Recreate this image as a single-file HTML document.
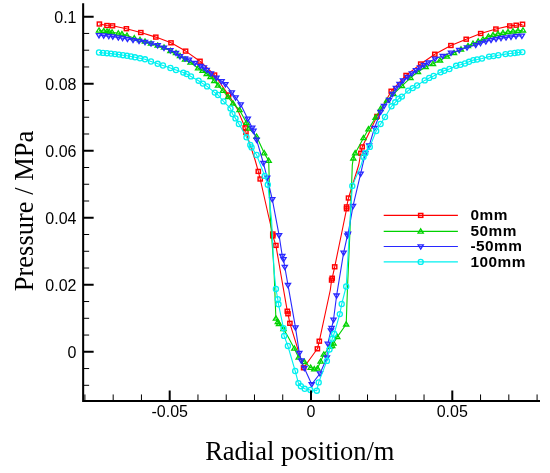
<!DOCTYPE html><html lang="en"><head><meta charset="utf-8"><title>Pressure vs radial position</title><style>html,body{margin:0;padding:0;background:#fff;}svg{display:block;}.t{font-family:"Liberation Sans",Arial,sans-serif;font-size:16px;fill:#000;}.ti{font-family:"Liberation Serif","Times New Roman",serif;font-size:26.5px;fill:#000;}.lg{font-family:"Liberation Sans",Arial,sans-serif;font-weight:bold;font-size:14px;fill:#000;}</style></head><body>
<svg width="550" height="473" viewBox="0 0 550 473">
<rect width="550" height="473" fill="#fff"/>
<polyline points="99.4,24.0 107.0,25.5 112.5,25.8 126.4,28.7 140.8,32.5 155.8,37.1 171.0,42.8 185.6,51.1 200.0,61.2 214.5,75.0 228.6,95.0 237.0,108.4 245.2,127.8 245.9,132.2 255.1,160.0 258.3,171.4 260.2,179.0 268.3,215.0 272.8,234.0 272.8,235.9 275.9,245.4 281.0,275.0 287.3,311.2 288.0,313.8 289.9,323.3 303.6,367.8 317.4,348.8 319.3,341.2 330.3,290.0 331.6,280.1 332.2,278.2 334.7,266.8 342.3,230.0 346.6,208.8 346.6,206.9 348.5,198.0 358.7,165.0 360.9,153.2 362.2,146.9 377.0,116.4 391.2,91.2 406.1,75.4 420.7,64.0 434.8,54.2 450.9,45.5 466.2,39.2 480.7,33.5 495.9,29.0 509.8,25.9 516.2,25.2 522.5,24.2" fill="none" stroke="#ff0000" stroke-width="1.1" stroke-linejoin="round"/>
<g><rect x="97.30" y="22.05" width="4.2" height="3.91" fill="none" stroke="#ff0000" stroke-width="1.45"/><rect x="104.90" y="23.55" width="4.2" height="3.91" fill="none" stroke="#ff0000" stroke-width="1.45"/><rect x="110.40" y="23.85" width="4.2" height="3.91" fill="none" stroke="#ff0000" stroke-width="1.45"/><rect x="124.30" y="26.75" width="4.2" height="3.91" fill="none" stroke="#ff0000" stroke-width="1.45"/><rect x="138.70" y="30.55" width="4.2" height="3.91" fill="none" stroke="#ff0000" stroke-width="1.45"/><rect x="153.70" y="35.15" width="4.2" height="3.91" fill="none" stroke="#ff0000" stroke-width="1.45"/><rect x="168.90" y="40.85" width="4.2" height="3.91" fill="none" stroke="#ff0000" stroke-width="1.45"/><rect x="183.50" y="49.15" width="4.2" height="3.91" fill="none" stroke="#ff0000" stroke-width="1.45"/><rect x="197.90" y="59.25" width="4.2" height="3.91" fill="none" stroke="#ff0000" stroke-width="1.45"/><rect x="212.40" y="73.05" width="4.2" height="3.91" fill="none" stroke="#ff0000" stroke-width="1.45"/><rect x="226.50" y="93.05" width="4.2" height="3.91" fill="none" stroke="#ff0000" stroke-width="1.45"/><rect x="243.10" y="125.85" width="4.2" height="3.91" fill="none" stroke="#ff0000" stroke-width="1.45"/><rect x="243.80" y="130.25" width="4.2" height="3.91" fill="none" stroke="#ff0000" stroke-width="1.45"/><rect x="256.20" y="169.45" width="4.2" height="3.91" fill="none" stroke="#ff0000" stroke-width="1.45"/><rect x="258.10" y="177.05" width="4.2" height="3.91" fill="none" stroke="#ff0000" stroke-width="1.45"/><rect x="270.70" y="232.05" width="4.2" height="3.91" fill="none" stroke="#ff0000" stroke-width="1.45"/><rect x="270.70" y="233.95" width="4.2" height="3.91" fill="none" stroke="#ff0000" stroke-width="1.45"/><rect x="273.80" y="243.45" width="4.2" height="3.91" fill="none" stroke="#ff0000" stroke-width="1.45"/><rect x="285.20" y="309.25" width="4.2" height="3.91" fill="none" stroke="#ff0000" stroke-width="1.45"/><rect x="285.90" y="311.85" width="4.2" height="3.91" fill="none" stroke="#ff0000" stroke-width="1.45"/><rect x="287.80" y="321.35" width="4.2" height="3.91" fill="none" stroke="#ff0000" stroke-width="1.45"/><rect x="301.50" y="365.85" width="4.2" height="3.91" fill="none" stroke="#ff0000" stroke-width="1.45"/><rect x="315.30" y="346.85" width="4.2" height="3.91" fill="none" stroke="#ff0000" stroke-width="1.45"/><rect x="317.20" y="339.25" width="4.2" height="3.91" fill="none" stroke="#ff0000" stroke-width="1.45"/><rect x="329.50" y="278.15" width="4.2" height="3.91" fill="none" stroke="#ff0000" stroke-width="1.45"/><rect x="330.10" y="276.25" width="4.2" height="3.91" fill="none" stroke="#ff0000" stroke-width="1.45"/><rect x="332.60" y="264.85" width="4.2" height="3.91" fill="none" stroke="#ff0000" stroke-width="1.45"/><rect x="344.50" y="206.85" width="4.2" height="3.91" fill="none" stroke="#ff0000" stroke-width="1.45"/><rect x="344.50" y="204.95" width="4.2" height="3.91" fill="none" stroke="#ff0000" stroke-width="1.45"/><rect x="346.40" y="196.05" width="4.2" height="3.91" fill="none" stroke="#ff0000" stroke-width="1.45"/><rect x="358.80" y="151.25" width="4.2" height="3.91" fill="none" stroke="#ff0000" stroke-width="1.45"/><rect x="360.10" y="144.95" width="4.2" height="3.91" fill="none" stroke="#ff0000" stroke-width="1.45"/><rect x="374.90" y="114.45" width="4.2" height="3.91" fill="none" stroke="#ff0000" stroke-width="1.45"/><rect x="389.10" y="89.25" width="4.2" height="3.91" fill="none" stroke="#ff0000" stroke-width="1.45"/><rect x="404.00" y="73.45" width="4.2" height="3.91" fill="none" stroke="#ff0000" stroke-width="1.45"/><rect x="418.60" y="62.05" width="4.2" height="3.91" fill="none" stroke="#ff0000" stroke-width="1.45"/><rect x="432.70" y="52.25" width="4.2" height="3.91" fill="none" stroke="#ff0000" stroke-width="1.45"/><rect x="448.80" y="43.55" width="4.2" height="3.91" fill="none" stroke="#ff0000" stroke-width="1.45"/><rect x="464.10" y="37.25" width="4.2" height="3.91" fill="none" stroke="#ff0000" stroke-width="1.45"/><rect x="478.60" y="31.55" width="4.2" height="3.91" fill="none" stroke="#ff0000" stroke-width="1.45"/><rect x="493.80" y="27.05" width="4.2" height="3.91" fill="none" stroke="#ff0000" stroke-width="1.45"/><rect x="507.70" y="23.95" width="4.2" height="3.91" fill="none" stroke="#ff0000" stroke-width="1.45"/><rect x="514.10" y="23.25" width="4.2" height="3.91" fill="none" stroke="#ff0000" stroke-width="1.45"/><rect x="520.40" y="22.25" width="4.2" height="3.91" fill="none" stroke="#ff0000" stroke-width="1.45"/></g>
<polyline points="99.0,30.5 103.7,31.0 107.0,31.5 109.2,31.8 112.1,32.3 118.3,33.3 121.9,34.0 127.0,35.6 134.3,38.2 140.0,39.8 145.0,41.5 151.0,43.5 157.7,45.5 164.0,47.5 170.4,50.8 176.0,53.0 180.0,56.0 185.0,59.5 190.5,62.5 198.1,68.2 202.6,70.7 206.7,73.8 210.5,76.8 214.3,80.8 218.0,85.5 222.9,90.6 228.0,97.0 233.0,103.3 239.5,110.0 246.5,122.7 249.0,128.4 256.6,136.6 264.2,153.1 268.7,160.7 270.2,215.0 274.0,270.0 275.9,318.5 277.8,322.0 279.0,323.8 283.5,328.9 287.9,336.5 294.3,348.5 298.7,357.4 304.4,361.9 310.7,367.6 314.3,369.1 317.4,368.5 320.6,361.5 323.8,354.5 330.1,346.3 332.2,345.8 333.5,343.3 337.3,336.9 346.2,324.3 347.4,290.0 350.0,230.0 352.3,165.0 353.3,158.3 355.2,153.2 363.5,138.0 368.5,129.1 375.5,117.7 380.6,108.8 387.0,100.5 393.4,94.0 402.0,85.8 410.5,77.8 418.0,71.8 425.7,67.0 433.0,63.8 440.0,60.3 447.0,56.5 454.0,53.0 461.0,49.3 468.0,46.0 473.0,43.6 478.2,41.4 483.0,39.3 488.4,36.6 493.0,35.0 498.0,33.8 503.0,32.8 508.0,32.0 513.0,31.3 518.0,30.8 523.0,30.3" fill="none" stroke="#00d200" stroke-width="1.1" stroke-linejoin="round"/>
<g><path d="M99.00 27.92L101.60 32.22L96.40 32.22Z" fill="none" stroke="#00d200" stroke-width="1.3"/><path d="M103.70 28.42L106.30 32.72L101.10 32.72Z" fill="none" stroke="#00d200" stroke-width="1.3"/><path d="M107.00 28.92L109.60 33.22L104.40 33.22Z" fill="none" stroke="#00d200" stroke-width="1.3"/><path d="M109.20 29.22L111.80 33.52L106.60 33.52Z" fill="none" stroke="#00d200" stroke-width="1.3"/><path d="M112.10 29.72L114.70 34.02L109.50 34.02Z" fill="none" stroke="#00d200" stroke-width="1.3"/><path d="M118.30 30.72L120.90 35.02L115.70 35.02Z" fill="none" stroke="#00d200" stroke-width="1.3"/><path d="M121.90 31.42L124.50 35.72L119.30 35.72Z" fill="none" stroke="#00d200" stroke-width="1.3"/><path d="M127.00 33.02L129.60 37.32L124.40 37.32Z" fill="none" stroke="#00d200" stroke-width="1.3"/><path d="M134.30 35.62L136.90 39.92L131.70 39.92Z" fill="none" stroke="#00d200" stroke-width="1.3"/><path d="M140.00 37.22L142.60 41.52L137.40 41.52Z" fill="none" stroke="#00d200" stroke-width="1.3"/><path d="M145.00 38.92L147.60 43.22L142.40 43.22Z" fill="none" stroke="#00d200" stroke-width="1.3"/><path d="M151.00 40.92L153.60 45.22L148.40 45.22Z" fill="none" stroke="#00d200" stroke-width="1.3"/><path d="M157.70 42.92L160.30 47.22L155.10 47.22Z" fill="none" stroke="#00d200" stroke-width="1.3"/><path d="M164.00 44.92L166.60 49.22L161.40 49.22Z" fill="none" stroke="#00d200" stroke-width="1.3"/><path d="M170.40 48.22L173.00 52.52L167.80 52.52Z" fill="none" stroke="#00d200" stroke-width="1.3"/><path d="M176.00 50.42L178.60 54.72L173.40 54.72Z" fill="none" stroke="#00d200" stroke-width="1.3"/><path d="M180.00 53.42L182.60 57.72L177.40 57.72Z" fill="none" stroke="#00d200" stroke-width="1.3"/><path d="M185.00 56.92L187.60 61.22L182.40 61.22Z" fill="none" stroke="#00d200" stroke-width="1.3"/><path d="M190.50 59.92L193.10 64.22L187.90 64.22Z" fill="none" stroke="#00d200" stroke-width="1.3"/><path d="M198.10 65.62L200.70 69.92L195.50 69.92Z" fill="none" stroke="#00d200" stroke-width="1.3"/><path d="M202.60 68.12L205.20 72.42L200.00 72.42Z" fill="none" stroke="#00d200" stroke-width="1.3"/><path d="M206.70 71.22L209.30 75.52L204.10 75.52Z" fill="none" stroke="#00d200" stroke-width="1.3"/><path d="M210.50 74.22L213.10 78.52L207.90 78.52Z" fill="none" stroke="#00d200" stroke-width="1.3"/><path d="M214.30 78.22L216.90 82.52L211.70 82.52Z" fill="none" stroke="#00d200" stroke-width="1.3"/><path d="M218.00 82.92L220.60 87.22L215.40 87.22Z" fill="none" stroke="#00d200" stroke-width="1.3"/><path d="M222.90 88.02L225.50 92.32L220.30 92.32Z" fill="none" stroke="#00d200" stroke-width="1.3"/><path d="M228.00 94.42L230.60 98.72L225.40 98.72Z" fill="none" stroke="#00d200" stroke-width="1.3"/><path d="M233.00 100.72L235.60 105.02L230.40 105.02Z" fill="none" stroke="#00d200" stroke-width="1.3"/><path d="M239.50 107.42L242.10 111.72L236.90 111.72Z" fill="none" stroke="#00d200" stroke-width="1.3"/><path d="M246.50 120.12L249.10 124.42L243.90 124.42Z" fill="none" stroke="#00d200" stroke-width="1.3"/><path d="M249.00 125.82L251.60 130.12L246.40 130.12Z" fill="none" stroke="#00d200" stroke-width="1.3"/><path d="M256.60 134.02L259.20 138.32L254.00 138.32Z" fill="none" stroke="#00d200" stroke-width="1.3"/><path d="M264.20 150.52L266.80 154.82L261.60 154.82Z" fill="none" stroke="#00d200" stroke-width="1.3"/><path d="M268.70 158.12L271.30 162.42L266.10 162.42Z" fill="none" stroke="#00d200" stroke-width="1.3"/><path d="M275.90 315.92L278.50 320.22L273.30 320.22Z" fill="none" stroke="#00d200" stroke-width="1.3"/><path d="M277.80 319.42L280.40 323.72L275.20 323.72Z" fill="none" stroke="#00d200" stroke-width="1.3"/><path d="M279.00 321.22L281.60 325.52L276.40 325.52Z" fill="none" stroke="#00d200" stroke-width="1.3"/><path d="M283.50 326.32L286.10 330.62L280.90 330.62Z" fill="none" stroke="#00d200" stroke-width="1.3"/><path d="M294.30 345.92L296.90 350.22L291.70 350.22Z" fill="none" stroke="#00d200" stroke-width="1.3"/><path d="M298.70 354.82L301.30 359.12L296.10 359.12Z" fill="none" stroke="#00d200" stroke-width="1.3"/><path d="M304.40 359.32L307.00 363.62L301.80 363.62Z" fill="none" stroke="#00d200" stroke-width="1.3"/><path d="M310.70 365.02L313.30 369.32L308.10 369.32Z" fill="none" stroke="#00d200" stroke-width="1.3"/><path d="M314.30 366.52L316.90 370.82L311.70 370.82Z" fill="none" stroke="#00d200" stroke-width="1.3"/><path d="M317.40 365.92L320.00 370.22L314.80 370.22Z" fill="none" stroke="#00d200" stroke-width="1.3"/><path d="M320.60 358.92L323.20 363.22L318.00 363.22Z" fill="none" stroke="#00d200" stroke-width="1.3"/><path d="M323.80 351.92L326.40 356.22L321.20 356.22Z" fill="none" stroke="#00d200" stroke-width="1.3"/><path d="M330.10 343.72L332.70 348.02L327.50 348.02Z" fill="none" stroke="#00d200" stroke-width="1.3"/><path d="M332.20 343.22L334.80 347.52L329.60 347.52Z" fill="none" stroke="#00d200" stroke-width="1.3"/><path d="M333.50 340.72L336.10 345.02L330.90 345.02Z" fill="none" stroke="#00d200" stroke-width="1.3"/><path d="M337.30 334.32L339.90 338.62L334.70 338.62Z" fill="none" stroke="#00d200" stroke-width="1.3"/><path d="M346.20 321.72L348.80 326.02L343.60 326.02Z" fill="none" stroke="#00d200" stroke-width="1.3"/><path d="M353.30 155.72L355.90 160.02L350.70 160.02Z" fill="none" stroke="#00d200" stroke-width="1.3"/><path d="M355.20 150.62L357.80 154.92L352.60 154.92Z" fill="none" stroke="#00d200" stroke-width="1.3"/><path d="M363.50 135.42L366.10 139.72L360.90 139.72Z" fill="none" stroke="#00d200" stroke-width="1.3"/><path d="M368.50 126.52L371.10 130.82L365.90 130.82Z" fill="none" stroke="#00d200" stroke-width="1.3"/><path d="M375.50 115.12L378.10 119.42L372.90 119.42Z" fill="none" stroke="#00d200" stroke-width="1.3"/><path d="M380.60 106.22L383.20 110.52L378.00 110.52Z" fill="none" stroke="#00d200" stroke-width="1.3"/><path d="M387.00 97.92L389.60 102.22L384.40 102.22Z" fill="none" stroke="#00d200" stroke-width="1.3"/><path d="M393.40 91.42L396.00 95.72L390.80 95.72Z" fill="none" stroke="#00d200" stroke-width="1.3"/><path d="M402.00 83.22L404.60 87.52L399.40 87.52Z" fill="none" stroke="#00d200" stroke-width="1.3"/><path d="M410.50 75.22L413.10 79.52L407.90 79.52Z" fill="none" stroke="#00d200" stroke-width="1.3"/><path d="M418.00 69.22L420.60 73.52L415.40 73.52Z" fill="none" stroke="#00d200" stroke-width="1.3"/><path d="M425.70 64.42L428.30 68.72L423.10 68.72Z" fill="none" stroke="#00d200" stroke-width="1.3"/><path d="M433.00 61.22L435.60 65.52L430.40 65.52Z" fill="none" stroke="#00d200" stroke-width="1.3"/><path d="M440.00 57.72L442.60 62.02L437.40 62.02Z" fill="none" stroke="#00d200" stroke-width="1.3"/><path d="M447.00 53.92L449.60 58.22L444.40 58.22Z" fill="none" stroke="#00d200" stroke-width="1.3"/><path d="M454.00 50.42L456.60 54.72L451.40 54.72Z" fill="none" stroke="#00d200" stroke-width="1.3"/><path d="M461.00 46.72L463.60 51.02L458.40 51.02Z" fill="none" stroke="#00d200" stroke-width="1.3"/><path d="M468.00 43.42L470.60 47.72L465.40 47.72Z" fill="none" stroke="#00d200" stroke-width="1.3"/><path d="M473.00 41.02L475.60 45.32L470.40 45.32Z" fill="none" stroke="#00d200" stroke-width="1.3"/><path d="M478.20 38.82L480.80 43.12L475.60 43.12Z" fill="none" stroke="#00d200" stroke-width="1.3"/><path d="M483.00 36.72L485.60 41.02L480.40 41.02Z" fill="none" stroke="#00d200" stroke-width="1.3"/><path d="M488.40 34.02L491.00 38.32L485.80 38.32Z" fill="none" stroke="#00d200" stroke-width="1.3"/><path d="M493.00 32.42L495.60 36.72L490.40 36.72Z" fill="none" stroke="#00d200" stroke-width="1.3"/><path d="M498.00 31.22L500.60 35.52L495.40 35.52Z" fill="none" stroke="#00d200" stroke-width="1.3"/><path d="M503.00 30.22L505.60 34.52L500.40 34.52Z" fill="none" stroke="#00d200" stroke-width="1.3"/><path d="M508.00 29.42L510.60 33.72L505.40 33.72Z" fill="none" stroke="#00d200" stroke-width="1.3"/><path d="M513.00 28.72L515.60 33.02L510.40 33.02Z" fill="none" stroke="#00d200" stroke-width="1.3"/><path d="M518.00 28.22L520.60 32.52L515.40 32.52Z" fill="none" stroke="#00d200" stroke-width="1.3"/><path d="M523.00 27.72L525.60 32.02L520.40 32.02Z" fill="none" stroke="#00d200" stroke-width="1.3"/></g>
<polyline points="99.0,35.3 103.7,35.6 108.8,36.2 112.8,36.6 118.3,37.5 122.6,38.2 127.4,39.0 133.0,40.0 139.0,41.0 145.0,42.2 151.0,43.5 157.7,45.4 164.0,47.8 170.4,50.4 176.0,53.0 180.0,56.4 185.0,58.5 189.0,59.8 195.0,63.0 200.5,66.0 203.9,67.6 206.7,70.0 211.0,73.5 216.5,77.8 221.6,81.3 225.4,84.3 231.8,92.5 235.6,97.6 240.7,104.5 247.8,118.9 252.2,127.8 253.5,130.9 256.6,139.8 263.4,163.2 267.2,177.8 272.3,199.3 279.1,235.3 282.3,256.2 283.5,259.4 284.8,267.0 288.0,285.2 295.5,327.6 299.3,353.0 301.2,360.6 304.4,368.2 311.7,384.3 320.0,373.5 326.9,357.7 327.8,343.9 330.9,330.6 331.6,328.1 333.5,319.8 336.6,295.7 343.6,252.8 347.4,235.7 348.1,233.8 353.0,206.2 360.6,173.9 365.4,153.2 369.2,145.6 374.5,128.0 380.5,112.0 384.0,106.0 389.0,100.0 392.5,94.0 395.9,88.1 399.5,84.2 403.0,80.5 407.5,77.0 411.8,73.5 416.0,70.3 420.0,67.5 424.0,65.0 428.3,62.7 435.0,58.8 442.7,56.0 451.0,52.8 459.2,50.2 467.0,47.5 475.7,45.0 480.5,43.2 485.8,41.5 491.0,40.0 496.0,39.0 501.0,38.2 506.0,37.5 511.0,36.8 516.0,36.2 521.9,35.8" fill="none" stroke="#2828ff" stroke-width="1.1" stroke-linejoin="round"/>
<g><path d="M99.00 37.88L101.60 33.58L96.40 33.58Z" fill="none" stroke="#2828ff" stroke-width="1.3"/><path d="M103.70 38.18L106.30 33.88L101.10 33.88Z" fill="none" stroke="#2828ff" stroke-width="1.3"/><path d="M108.80 38.78L111.40 34.48L106.20 34.48Z" fill="none" stroke="#2828ff" stroke-width="1.3"/><path d="M112.80 39.18L115.40 34.88L110.20 34.88Z" fill="none" stroke="#2828ff" stroke-width="1.3"/><path d="M118.30 40.08L120.90 35.78L115.70 35.78Z" fill="none" stroke="#2828ff" stroke-width="1.3"/><path d="M122.60 40.78L125.20 36.48L120.00 36.48Z" fill="none" stroke="#2828ff" stroke-width="1.3"/><path d="M127.40 41.58L130.00 37.28L124.80 37.28Z" fill="none" stroke="#2828ff" stroke-width="1.3"/><path d="M133.00 42.58L135.60 38.28L130.40 38.28Z" fill="none" stroke="#2828ff" stroke-width="1.3"/><path d="M139.00 43.58L141.60 39.28L136.40 39.28Z" fill="none" stroke="#2828ff" stroke-width="1.3"/><path d="M145.00 44.78L147.60 40.48L142.40 40.48Z" fill="none" stroke="#2828ff" stroke-width="1.3"/><path d="M151.00 46.08L153.60 41.78L148.40 41.78Z" fill="none" stroke="#2828ff" stroke-width="1.3"/><path d="M157.70 47.98L160.30 43.68L155.10 43.68Z" fill="none" stroke="#2828ff" stroke-width="1.3"/><path d="M164.00 50.38L166.60 46.08L161.40 46.08Z" fill="none" stroke="#2828ff" stroke-width="1.3"/><path d="M170.40 52.98L173.00 48.68L167.80 48.68Z" fill="none" stroke="#2828ff" stroke-width="1.3"/><path d="M176.00 55.58L178.60 51.28L173.40 51.28Z" fill="none" stroke="#2828ff" stroke-width="1.3"/><path d="M180.00 58.98L182.60 54.68L177.40 54.68Z" fill="none" stroke="#2828ff" stroke-width="1.3"/><path d="M185.00 61.08L187.60 56.78L182.40 56.78Z" fill="none" stroke="#2828ff" stroke-width="1.3"/><path d="M189.00 62.38L191.60 58.08L186.40 58.08Z" fill="none" stroke="#2828ff" stroke-width="1.3"/><path d="M195.00 65.58L197.60 61.28L192.40 61.28Z" fill="none" stroke="#2828ff" stroke-width="1.3"/><path d="M200.50 68.58L203.10 64.28L197.90 64.28Z" fill="none" stroke="#2828ff" stroke-width="1.3"/><path d="M203.90 70.18L206.50 65.88L201.30 65.88Z" fill="none" stroke="#2828ff" stroke-width="1.3"/><path d="M206.70 72.58L209.30 68.28L204.10 68.28Z" fill="none" stroke="#2828ff" stroke-width="1.3"/><path d="M211.00 76.08L213.60 71.78L208.40 71.78Z" fill="none" stroke="#2828ff" stroke-width="1.3"/><path d="M216.50 80.38L219.10 76.08L213.90 76.08Z" fill="none" stroke="#2828ff" stroke-width="1.3"/><path d="M221.60 83.88L224.20 79.58L219.00 79.58Z" fill="none" stroke="#2828ff" stroke-width="1.3"/><path d="M225.40 86.88L228.00 82.58L222.80 82.58Z" fill="none" stroke="#2828ff" stroke-width="1.3"/><path d="M231.80 95.08L234.40 90.78L229.20 90.78Z" fill="none" stroke="#2828ff" stroke-width="1.3"/><path d="M235.60 100.18L238.20 95.88L233.00 95.88Z" fill="none" stroke="#2828ff" stroke-width="1.3"/><path d="M240.70 107.08L243.30 102.78L238.10 102.78Z" fill="none" stroke="#2828ff" stroke-width="1.3"/><path d="M247.80 121.48L250.40 117.18L245.20 117.18Z" fill="none" stroke="#2828ff" stroke-width="1.3"/><path d="M252.20 130.38L254.80 126.08L249.60 126.08Z" fill="none" stroke="#2828ff" stroke-width="1.3"/><path d="M253.50 133.48L256.10 129.18L250.90 129.18Z" fill="none" stroke="#2828ff" stroke-width="1.3"/><path d="M256.60 142.38L259.20 138.08L254.00 138.08Z" fill="none" stroke="#2828ff" stroke-width="1.3"/><path d="M263.40 165.78L266.00 161.48L260.80 161.48Z" fill="none" stroke="#2828ff" stroke-width="1.3"/><path d="M267.20 180.38L269.80 176.08L264.60 176.08Z" fill="none" stroke="#2828ff" stroke-width="1.3"/><path d="M272.30 201.88L274.90 197.58L269.70 197.58Z" fill="none" stroke="#2828ff" stroke-width="1.3"/><path d="M279.10 237.88L281.70 233.58L276.50 233.58Z" fill="none" stroke="#2828ff" stroke-width="1.3"/><path d="M282.30 258.78L284.90 254.48L279.70 254.48Z" fill="none" stroke="#2828ff" stroke-width="1.3"/><path d="M283.50 261.98L286.10 257.68L280.90 257.68Z" fill="none" stroke="#2828ff" stroke-width="1.3"/><path d="M284.80 269.58L287.40 265.28L282.20 265.28Z" fill="none" stroke="#2828ff" stroke-width="1.3"/><path d="M288.00 287.78L290.60 283.48L285.40 283.48Z" fill="none" stroke="#2828ff" stroke-width="1.3"/><path d="M295.50 330.18L298.10 325.88L292.90 325.88Z" fill="none" stroke="#2828ff" stroke-width="1.3"/><path d="M299.30 355.58L301.90 351.28L296.70 351.28Z" fill="none" stroke="#2828ff" stroke-width="1.3"/><path d="M301.20 363.18L303.80 358.88L298.60 358.88Z" fill="none" stroke="#2828ff" stroke-width="1.3"/><path d="M304.40 370.78L307.00 366.48L301.80 366.48Z" fill="none" stroke="#2828ff" stroke-width="1.3"/><path d="M311.70 386.88L314.30 382.58L309.10 382.58Z" fill="none" stroke="#2828ff" stroke-width="1.3"/><path d="M320.00 376.08L322.60 371.78L317.40 371.78Z" fill="none" stroke="#2828ff" stroke-width="1.3"/><path d="M326.90 360.28L329.50 355.98L324.30 355.98Z" fill="none" stroke="#2828ff" stroke-width="1.3"/><path d="M327.80 346.48L330.40 342.18L325.20 342.18Z" fill="none" stroke="#2828ff" stroke-width="1.3"/><path d="M330.90 333.18L333.50 328.88L328.30 328.88Z" fill="none" stroke="#2828ff" stroke-width="1.3"/><path d="M331.60 330.68L334.20 326.38L329.00 326.38Z" fill="none" stroke="#2828ff" stroke-width="1.3"/><path d="M333.50 322.38L336.10 318.08L330.90 318.08Z" fill="none" stroke="#2828ff" stroke-width="1.3"/><path d="M336.60 298.28L339.20 293.98L334.00 293.98Z" fill="none" stroke="#2828ff" stroke-width="1.3"/><path d="M343.60 255.38L346.20 251.08L341.00 251.08Z" fill="none" stroke="#2828ff" stroke-width="1.3"/><path d="M347.40 238.28L350.00 233.98L344.80 233.98Z" fill="none" stroke="#2828ff" stroke-width="1.3"/><path d="M348.10 236.38L350.70 232.08L345.50 232.08Z" fill="none" stroke="#2828ff" stroke-width="1.3"/><path d="M353.00 208.78L355.60 204.48L350.40 204.48Z" fill="none" stroke="#2828ff" stroke-width="1.3"/><path d="M360.60 176.48L363.20 172.18L358.00 172.18Z" fill="none" stroke="#2828ff" stroke-width="1.3"/><path d="M365.40 155.78L368.00 151.48L362.80 151.48Z" fill="none" stroke="#2828ff" stroke-width="1.3"/><path d="M369.20 148.18L371.80 143.88L366.60 143.88Z" fill="none" stroke="#2828ff" stroke-width="1.3"/><path d="M374.50 130.58L377.10 126.28L371.90 126.28Z" fill="none" stroke="#2828ff" stroke-width="1.3"/><path d="M380.50 114.58L383.10 110.28L377.90 110.28Z" fill="none" stroke="#2828ff" stroke-width="1.3"/><path d="M384.00 108.58L386.60 104.28L381.40 104.28Z" fill="none" stroke="#2828ff" stroke-width="1.3"/><path d="M389.00 102.58L391.60 98.28L386.40 98.28Z" fill="none" stroke="#2828ff" stroke-width="1.3"/><path d="M392.50 96.58L395.10 92.28L389.90 92.28Z" fill="none" stroke="#2828ff" stroke-width="1.3"/><path d="M395.90 90.68L398.50 86.38L393.30 86.38Z" fill="none" stroke="#2828ff" stroke-width="1.3"/><path d="M399.50 86.78L402.10 82.48L396.90 82.48Z" fill="none" stroke="#2828ff" stroke-width="1.3"/><path d="M403.00 83.08L405.60 78.78L400.40 78.78Z" fill="none" stroke="#2828ff" stroke-width="1.3"/><path d="M407.50 79.58L410.10 75.28L404.90 75.28Z" fill="none" stroke="#2828ff" stroke-width="1.3"/><path d="M411.80 76.08L414.40 71.78L409.20 71.78Z" fill="none" stroke="#2828ff" stroke-width="1.3"/><path d="M416.00 72.88L418.60 68.58L413.40 68.58Z" fill="none" stroke="#2828ff" stroke-width="1.3"/><path d="M420.00 70.08L422.60 65.78L417.40 65.78Z" fill="none" stroke="#2828ff" stroke-width="1.3"/><path d="M424.00 67.58L426.60 63.28L421.40 63.28Z" fill="none" stroke="#2828ff" stroke-width="1.3"/><path d="M428.30 65.28L430.90 60.98L425.70 60.98Z" fill="none" stroke="#2828ff" stroke-width="1.3"/><path d="M435.00 61.38L437.60 57.08L432.40 57.08Z" fill="none" stroke="#2828ff" stroke-width="1.3"/><path d="M442.70 58.58L445.30 54.28L440.10 54.28Z" fill="none" stroke="#2828ff" stroke-width="1.3"/><path d="M451.00 55.38L453.60 51.08L448.40 51.08Z" fill="none" stroke="#2828ff" stroke-width="1.3"/><path d="M459.20 52.78L461.80 48.48L456.60 48.48Z" fill="none" stroke="#2828ff" stroke-width="1.3"/><path d="M467.00 50.08L469.60 45.78L464.40 45.78Z" fill="none" stroke="#2828ff" stroke-width="1.3"/><path d="M475.70 47.58L478.30 43.28L473.10 43.28Z" fill="none" stroke="#2828ff" stroke-width="1.3"/><path d="M480.50 45.78L483.10 41.48L477.90 41.48Z" fill="none" stroke="#2828ff" stroke-width="1.3"/><path d="M485.80 44.08L488.40 39.78L483.20 39.78Z" fill="none" stroke="#2828ff" stroke-width="1.3"/><path d="M491.00 42.58L493.60 38.28L488.40 38.28Z" fill="none" stroke="#2828ff" stroke-width="1.3"/><path d="M496.00 41.58L498.60 37.28L493.40 37.28Z" fill="none" stroke="#2828ff" stroke-width="1.3"/><path d="M501.00 40.78L503.60 36.48L498.40 36.48Z" fill="none" stroke="#2828ff" stroke-width="1.3"/><path d="M506.00 40.08L508.60 35.78L503.40 35.78Z" fill="none" stroke="#2828ff" stroke-width="1.3"/><path d="M511.00 39.38L513.60 35.08L508.40 35.08Z" fill="none" stroke="#2828ff" stroke-width="1.3"/><path d="M516.00 38.78L518.60 34.48L513.40 34.48Z" fill="none" stroke="#2828ff" stroke-width="1.3"/><path d="M521.90 38.38L524.50 34.08L519.30 34.08Z" fill="none" stroke="#2828ff" stroke-width="1.3"/></g>
<polyline points="99.0,52.5 103.0,52.9 107.0,53.2 111.0,53.6 115.0,54.1 119.0,54.6 123.0,55.2 127.0,55.8 131.0,56.5 135.0,57.3 140.0,58.3 145.0,59.3 151.0,61.5 157.7,63.8 163.0,65.5 170.4,68.0 176.0,70.0 183.3,72.6 186.7,74.0 191.0,76.4 198.6,80.7 202.9,83.6 207.1,86.4 214.8,92.6 218.0,95.0 223.5,101.4 230.5,108.4 232.5,114.0 235.5,118.4 238.9,124.0 246.5,137.3 250.3,144.9 251.6,147.4 256.6,155.0 264.7,175.9 267.8,184.7 271.6,220.0 274.0,270.0 275.9,289.0 277.8,299.2 278.5,304.3 283.5,328.2 284.1,335.9 287.9,346.0 295.2,371.0 298.4,383.1 300.9,386.2 304.7,388.8 310.4,390.0 316.8,390.7 318.7,382.4 326.9,360.9 329.5,349.5 332.2,338.8 334.1,333.8 339.8,314.1 341.7,304.0 346.2,286.5 349.8,225.0 352.3,185.9 361.2,165.0 363.5,157.0 365.4,153.2 369.8,146.9 376.2,131.0 380.6,124.0 385.0,117.0 391.5,106.3 395.2,102.3 398.5,98.8 401.9,96.6 408.2,90.6 412.7,88.1 417.1,85.5 424.7,80.4 429.2,77.9 433.6,76.0 440.5,72.3 444.3,70.8 449.4,69.0 456.1,65.8 460.4,64.8 465.0,63.5 469.0,61.8 473.3,60.1 477.1,59.5 482.0,58.5 489.1,56.6 493.5,56.1 498.4,55.2 505.5,54.1 510.4,53.5 514.7,53.0 518.0,52.5 522.4,52.1" fill="none" stroke="#00f0f0" stroke-width="1.1" stroke-linejoin="round"/>
<g><circle cx="99.00" cy="52.50" r="2.55" fill="none" stroke="#00f0f0" stroke-width="1.3"/><circle cx="103.00" cy="52.90" r="2.55" fill="none" stroke="#00f0f0" stroke-width="1.3"/><circle cx="107.00" cy="53.20" r="2.55" fill="none" stroke="#00f0f0" stroke-width="1.3"/><circle cx="111.00" cy="53.60" r="2.55" fill="none" stroke="#00f0f0" stroke-width="1.3"/><circle cx="115.00" cy="54.10" r="2.55" fill="none" stroke="#00f0f0" stroke-width="1.3"/><circle cx="119.00" cy="54.60" r="2.55" fill="none" stroke="#00f0f0" stroke-width="1.3"/><circle cx="123.00" cy="55.20" r="2.55" fill="none" stroke="#00f0f0" stroke-width="1.3"/><circle cx="127.00" cy="55.80" r="2.55" fill="none" stroke="#00f0f0" stroke-width="1.3"/><circle cx="131.00" cy="56.50" r="2.55" fill="none" stroke="#00f0f0" stroke-width="1.3"/><circle cx="135.00" cy="57.30" r="2.55" fill="none" stroke="#00f0f0" stroke-width="1.3"/><circle cx="140.00" cy="58.30" r="2.55" fill="none" stroke="#00f0f0" stroke-width="1.3"/><circle cx="145.00" cy="59.30" r="2.55" fill="none" stroke="#00f0f0" stroke-width="1.3"/><circle cx="151.00" cy="61.50" r="2.55" fill="none" stroke="#00f0f0" stroke-width="1.3"/><circle cx="157.70" cy="63.80" r="2.55" fill="none" stroke="#00f0f0" stroke-width="1.3"/><circle cx="163.00" cy="65.50" r="2.55" fill="none" stroke="#00f0f0" stroke-width="1.3"/><circle cx="170.40" cy="68.00" r="2.55" fill="none" stroke="#00f0f0" stroke-width="1.3"/><circle cx="176.00" cy="70.00" r="2.55" fill="none" stroke="#00f0f0" stroke-width="1.3"/><circle cx="183.30" cy="72.60" r="2.55" fill="none" stroke="#00f0f0" stroke-width="1.3"/><circle cx="186.70" cy="74.00" r="2.55" fill="none" stroke="#00f0f0" stroke-width="1.3"/><circle cx="191.00" cy="76.40" r="2.55" fill="none" stroke="#00f0f0" stroke-width="1.3"/><circle cx="198.60" cy="80.70" r="2.55" fill="none" stroke="#00f0f0" stroke-width="1.3"/><circle cx="202.90" cy="83.60" r="2.55" fill="none" stroke="#00f0f0" stroke-width="1.3"/><circle cx="207.10" cy="86.40" r="2.55" fill="none" stroke="#00f0f0" stroke-width="1.3"/><circle cx="214.80" cy="92.60" r="2.55" fill="none" stroke="#00f0f0" stroke-width="1.3"/><circle cx="218.00" cy="95.00" r="2.55" fill="none" stroke="#00f0f0" stroke-width="1.3"/><circle cx="223.50" cy="101.40" r="2.55" fill="none" stroke="#00f0f0" stroke-width="1.3"/><circle cx="230.50" cy="108.40" r="2.55" fill="none" stroke="#00f0f0" stroke-width="1.3"/><circle cx="232.50" cy="114.00" r="2.55" fill="none" stroke="#00f0f0" stroke-width="1.3"/><circle cx="235.50" cy="118.40" r="2.55" fill="none" stroke="#00f0f0" stroke-width="1.3"/><circle cx="238.90" cy="124.00" r="2.55" fill="none" stroke="#00f0f0" stroke-width="1.3"/><circle cx="246.50" cy="137.30" r="2.55" fill="none" stroke="#00f0f0" stroke-width="1.3"/><circle cx="250.30" cy="144.90" r="2.55" fill="none" stroke="#00f0f0" stroke-width="1.3"/><circle cx="251.60" cy="147.40" r="2.55" fill="none" stroke="#00f0f0" stroke-width="1.3"/><circle cx="256.60" cy="155.00" r="2.55" fill="none" stroke="#00f0f0" stroke-width="1.3"/><circle cx="264.70" cy="175.90" r="2.55" fill="none" stroke="#00f0f0" stroke-width="1.3"/><circle cx="267.80" cy="184.70" r="2.55" fill="none" stroke="#00f0f0" stroke-width="1.3"/><circle cx="275.90" cy="289.00" r="2.55" fill="none" stroke="#00f0f0" stroke-width="1.3"/><circle cx="277.80" cy="299.20" r="2.55" fill="none" stroke="#00f0f0" stroke-width="1.3"/><circle cx="278.50" cy="304.30" r="2.55" fill="none" stroke="#00f0f0" stroke-width="1.3"/><circle cx="283.50" cy="328.20" r="2.55" fill="none" stroke="#00f0f0" stroke-width="1.3"/><circle cx="284.10" cy="335.90" r="2.55" fill="none" stroke="#00f0f0" stroke-width="1.3"/><circle cx="287.90" cy="346.00" r="2.55" fill="none" stroke="#00f0f0" stroke-width="1.3"/><circle cx="295.20" cy="371.00" r="2.55" fill="none" stroke="#00f0f0" stroke-width="1.3"/><circle cx="298.40" cy="383.10" r="2.55" fill="none" stroke="#00f0f0" stroke-width="1.3"/><circle cx="300.90" cy="386.20" r="2.55" fill="none" stroke="#00f0f0" stroke-width="1.3"/><circle cx="304.70" cy="388.80" r="2.55" fill="none" stroke="#00f0f0" stroke-width="1.3"/><circle cx="310.40" cy="390.00" r="2.55" fill="none" stroke="#00f0f0" stroke-width="1.3"/><circle cx="316.80" cy="390.70" r="2.55" fill="none" stroke="#00f0f0" stroke-width="1.3"/><circle cx="318.70" cy="382.40" r="2.55" fill="none" stroke="#00f0f0" stroke-width="1.3"/><circle cx="326.90" cy="360.90" r="2.55" fill="none" stroke="#00f0f0" stroke-width="1.3"/><circle cx="329.50" cy="349.50" r="2.55" fill="none" stroke="#00f0f0" stroke-width="1.3"/><circle cx="332.20" cy="338.80" r="2.55" fill="none" stroke="#00f0f0" stroke-width="1.3"/><circle cx="334.10" cy="333.80" r="2.55" fill="none" stroke="#00f0f0" stroke-width="1.3"/><circle cx="339.80" cy="314.10" r="2.55" fill="none" stroke="#00f0f0" stroke-width="1.3"/><circle cx="341.70" cy="304.00" r="2.55" fill="none" stroke="#00f0f0" stroke-width="1.3"/><circle cx="346.20" cy="286.50" r="2.55" fill="none" stroke="#00f0f0" stroke-width="1.3"/><circle cx="352.30" cy="185.90" r="2.55" fill="none" stroke="#00f0f0" stroke-width="1.3"/><circle cx="363.50" cy="157.00" r="2.55" fill="none" stroke="#00f0f0" stroke-width="1.3"/><circle cx="365.40" cy="153.20" r="2.55" fill="none" stroke="#00f0f0" stroke-width="1.3"/><circle cx="369.80" cy="146.90" r="2.55" fill="none" stroke="#00f0f0" stroke-width="1.3"/><circle cx="376.20" cy="131.00" r="2.55" fill="none" stroke="#00f0f0" stroke-width="1.3"/><circle cx="380.60" cy="124.00" r="2.55" fill="none" stroke="#00f0f0" stroke-width="1.3"/><circle cx="385.00" cy="117.00" r="2.55" fill="none" stroke="#00f0f0" stroke-width="1.3"/><circle cx="391.50" cy="106.30" r="2.55" fill="none" stroke="#00f0f0" stroke-width="1.3"/><circle cx="395.20" cy="102.30" r="2.55" fill="none" stroke="#00f0f0" stroke-width="1.3"/><circle cx="398.50" cy="98.80" r="2.55" fill="none" stroke="#00f0f0" stroke-width="1.3"/><circle cx="401.90" cy="96.60" r="2.55" fill="none" stroke="#00f0f0" stroke-width="1.3"/><circle cx="408.20" cy="90.60" r="2.55" fill="none" stroke="#00f0f0" stroke-width="1.3"/><circle cx="412.70" cy="88.10" r="2.55" fill="none" stroke="#00f0f0" stroke-width="1.3"/><circle cx="417.10" cy="85.50" r="2.55" fill="none" stroke="#00f0f0" stroke-width="1.3"/><circle cx="424.70" cy="80.40" r="2.55" fill="none" stroke="#00f0f0" stroke-width="1.3"/><circle cx="429.20" cy="77.90" r="2.55" fill="none" stroke="#00f0f0" stroke-width="1.3"/><circle cx="433.60" cy="76.00" r="2.55" fill="none" stroke="#00f0f0" stroke-width="1.3"/><circle cx="440.50" cy="72.30" r="2.55" fill="none" stroke="#00f0f0" stroke-width="1.3"/><circle cx="444.30" cy="70.80" r="2.55" fill="none" stroke="#00f0f0" stroke-width="1.3"/><circle cx="449.40" cy="69.00" r="2.55" fill="none" stroke="#00f0f0" stroke-width="1.3"/><circle cx="456.10" cy="65.80" r="2.55" fill="none" stroke="#00f0f0" stroke-width="1.3"/><circle cx="460.40" cy="64.80" r="2.55" fill="none" stroke="#00f0f0" stroke-width="1.3"/><circle cx="465.00" cy="63.50" r="2.55" fill="none" stroke="#00f0f0" stroke-width="1.3"/><circle cx="469.00" cy="61.80" r="2.55" fill="none" stroke="#00f0f0" stroke-width="1.3"/><circle cx="473.30" cy="60.10" r="2.55" fill="none" stroke="#00f0f0" stroke-width="1.3"/><circle cx="477.10" cy="59.50" r="2.55" fill="none" stroke="#00f0f0" stroke-width="1.3"/><circle cx="482.00" cy="58.50" r="2.55" fill="none" stroke="#00f0f0" stroke-width="1.3"/><circle cx="489.10" cy="56.60" r="2.55" fill="none" stroke="#00f0f0" stroke-width="1.3"/><circle cx="493.50" cy="56.10" r="2.55" fill="none" stroke="#00f0f0" stroke-width="1.3"/><circle cx="498.40" cy="55.20" r="2.55" fill="none" stroke="#00f0f0" stroke-width="1.3"/><circle cx="505.50" cy="54.10" r="2.55" fill="none" stroke="#00f0f0" stroke-width="1.3"/><circle cx="510.40" cy="53.50" r="2.55" fill="none" stroke="#00f0f0" stroke-width="1.3"/><circle cx="514.70" cy="53.00" r="2.55" fill="none" stroke="#00f0f0" stroke-width="1.3"/><circle cx="518.00" cy="52.50" r="2.55" fill="none" stroke="#00f0f0" stroke-width="1.3"/><circle cx="522.40" cy="52.10" r="2.55" fill="none" stroke="#00f0f0" stroke-width="1.3"/></g>
<path d="M83.15 3.3V401.95M82.15 400.95H540.0" fill="none" stroke="#000" stroke-width="2.05"/>
<path d="M83.15 351.80h10.5M83.15 284.78h10.5M83.15 217.76h10.5M83.15 150.74h10.5M83.15 83.72h10.5M83.15 16.70h10.5" stroke="#000" stroke-width="2"/>
<path d="M83.15 385.31h6M83.15 368.56h6M83.15 335.05h6M83.15 318.29h6M83.15 301.54h6M83.15 268.02h6M83.15 251.27h6M83.15 234.51h6M83.15 201.01h6M83.15 184.25h6M83.15 167.50h6M83.15 133.99h6M83.15 117.23h6M83.15 100.48h6M83.15 66.96h6M83.15 50.21h6M83.15 33.45h6" stroke="#000" stroke-width="1"/>
<path d="M169.70 400.95v-10.5M311.00 400.95v-10.5M452.30 400.95v-10.5" stroke="#000" stroke-width="2"/>
<path d="M84.92 400.95v-6.5M113.18 400.95v-6.5M141.44 400.95v-6.5M197.96 400.95v-6.5M226.22 400.95v-6.5M254.48 400.95v-6.5M282.74 400.95v-6.5M339.26 400.95v-6.5M367.52 400.95v-6.5M395.78 400.95v-6.5M424.04 400.95v-6.5M480.56 400.95v-6.5M508.82 400.95v-6.5M537.08 400.95v-6.5" stroke="#000" stroke-width="1"/>
<text class="t" x="76.5" y="23.30" text-anchor="end">0.1</text>
<text class="t" x="76.5" y="90.32" text-anchor="end">0.08</text>
<text class="t" x="76.5" y="157.34" text-anchor="end">0.06</text>
<text class="t" x="76.5" y="224.36" text-anchor="end">0.04</text>
<text class="t" x="76.5" y="291.38" text-anchor="end">0.02</text>
<text class="t" x="76.5" y="358.40" text-anchor="end">0</text>
<text class="t" x="169.70" y="417" text-anchor="middle">-0.05</text>
<text class="t" x="311.00" y="417" text-anchor="middle">0</text>
<text class="t" x="452.30" y="417" text-anchor="middle">0.05</text>
<text class="ti" x="205.2" y="459.6">Radial position/m</text>
<text class="ti" transform="translate(32.9,291.2) rotate(-90)" x="0" y="0">Pressure / MPa</text>
<line x1="383.7" y1="215.4" x2="457.9" y2="215.4" stroke="#ff0000" stroke-width="1.1"/>
<rect x="418.60" y="213.45" width="4.2" height="3.91" fill="none" stroke="#ff0000" stroke-width="1.45"/>
<text class="lg" transform="translate(470.4,220.3) scale(1.1,1)" x="0" y="0" letter-spacing="0.45">0mm</text>
<line x1="383.7" y1="231.4" x2="457.9" y2="231.4" stroke="#00d200" stroke-width="1.1"/>
<path d="M420.70 228.82L423.30 233.12L418.10 233.12Z" fill="none" stroke="#00d200" stroke-width="1.3"/>
<text class="lg" transform="translate(470.4,235.7) scale(1.1,1)" x="0" y="0" letter-spacing="0.45">50mm</text>
<line x1="383.7" y1="246.5" x2="457.9" y2="246.5" stroke="#2828ff" stroke-width="1.1"/>
<path d="M420.70 249.08L423.30 244.78L418.10 244.78Z" fill="none" stroke="#2828ff" stroke-width="1.3"/>
<text class="lg" transform="translate(470.4,251.2) scale(1.1,1)" x="0" y="0" letter-spacing="0.45">-50mm</text>
<line x1="383.7" y1="261.9" x2="457.9" y2="261.9" stroke="#00f0f0" stroke-width="1.1"/>
<circle cx="420.70" cy="261.90" r="2.55" fill="none" stroke="#00f0f0" stroke-width="1.3"/>
<text class="lg" transform="translate(470.4,266.6) scale(1.1,1)" x="0" y="0" letter-spacing="0.45">100mm</text>
</svg></body></html>
